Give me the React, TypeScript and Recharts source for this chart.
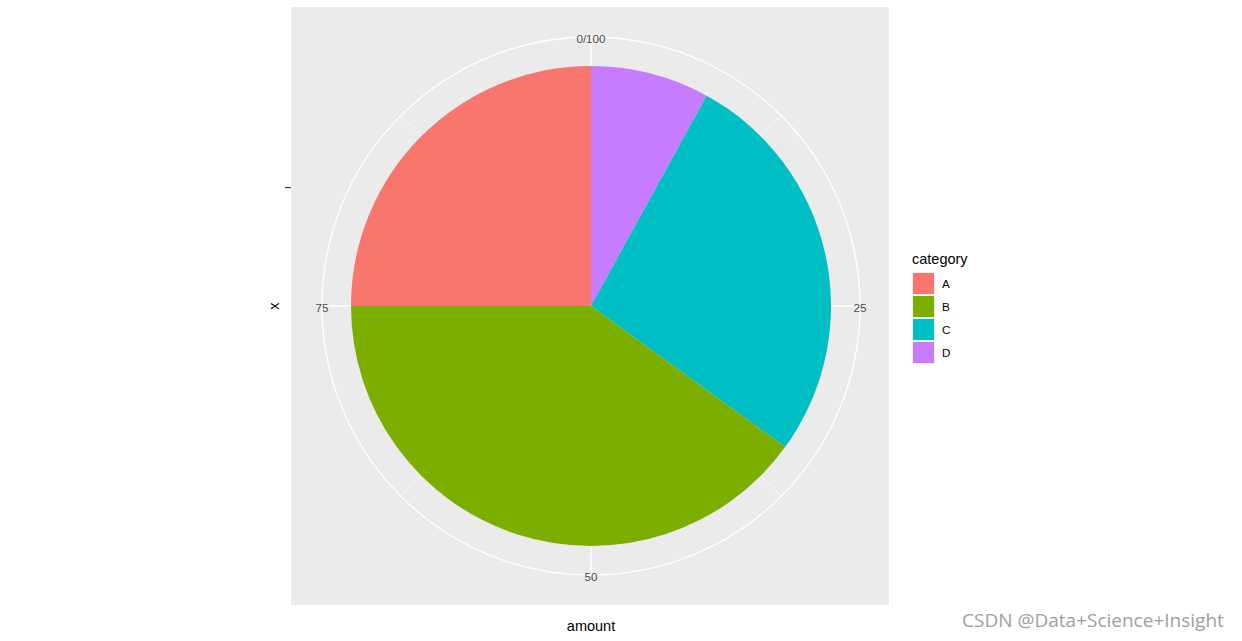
import { PieChart, Pie, Cell, Legend } from "recharts"

// slices in drawing order, clockwise from 12 o'clock
const sliceCategories = ["D", "C", "B", "A"]
const sliceAmounts = [8, 27, 40, 25]

const legendCategories = ["A", "B", "C", "D"]
const categoryColors: Record<string, string> = {
  A: "#F8766D",
  B: "#7CAE00",
  C: "#00BFC4",
  D: "#C77CFF",
}

const thetaBreaks = [0, 25, 50, 75]
const thetaLabels = ["0/100", "25", "50", "75"]
const thetaMinorBreaks = [12.5, 37.5, 62.5, 87.5]

const data = sliceCategories.map((category, i) => ({ category, amount: sliceAmounts[i] }))

const W = 1242
const H = 641
const CX = 591
const CY = 306
const PIE_R = 240
const GRID_R = 269
const FONT = "'Liberation Sans', Arial, sans-serif"

// angle in percent of the full turn -> point on a circle (clockwise from top)
const polar = (pct: number, r: number) => {
  const a = (pct / 100) * 2 * Math.PI
  return { x: CX + r * Math.sin(a), y: CY - r * Math.cos(a) }
}

function Panel() {
  return (
    <svg width={W} height={H} style={{ position: "absolute", left: 0, top: 0 }}>
      <rect x={291} y={7} width={598} height={598} fill="#EBEBEB" />
      {thetaMinorBreaks.map((b) => {
        const p = polar(b, GRID_R)
        return <line key={b} x1={CX} y1={CY} x2={p.x} y2={p.y} stroke="#fff" strokeWidth={0.7} />
      })}
      {thetaBreaks.map((b) => {
        const p = polar(b, GRID_R)
        return <line key={b} x1={CX} y1={CY} x2={p.x} y2={p.y} stroke="#fff" strokeWidth={1.4} />
      })}
      <circle cx={CX} cy={CY} r={GRID_R} fill="none" stroke="#fff" strokeWidth={1.4} />
      {thetaBreaks.map((b, i) => {
        const p = polar(b, GRID_R)
        return (
          <text
            key={b}
            x={p.x}
            y={p.y + 1}
            textAnchor="middle"
            dominantBaseline="central"
            fontFamily={FONT}
            fontSize={11.7}
            fill="#4D4D4D"
          >
            {thetaLabels[i]}
          </text>
        )
      })}
      {/* r axis: single discrete tick */}
      <line x1={285} y1={187.5} x2={291} y2={187.5} stroke="#333" strokeWidth={1.1} />
      <text
        x={279}
        y={CY}
        textAnchor="middle"
        transform={`rotate(-90 279 ${CY})`}
        fontFamily={FONT}
        fontSize={14.5}
        fill="#000"
      >
        x
      </text>
      <text x={CX} y={631} textAnchor="middle" fontFamily={FONT} fontSize={14.5} fill="#000">
        amount
      </text>
      <text x={962} y={627} fontFamily="'Open Sans', sans-serif" fontSize={19} fill="#9E9E9E">
        CSDN @Data+Science+Insight
      </text>
    </svg>
  )
}

function GgLegend() {
  return (
    <svg width={100} height={130}>
      <text x={0} y={14} fontFamily={FONT} fontSize={14.5} fill="#000">
        category
      </text>
      {legendCategories.map((c, i) => (
        <g key={c}>
          <rect x={0} y={22 + i * 23} width={23} height={23} fill="#F2F2F2" />
          <rect x={1} y={23 + i * 23} width={21} height={21} fill={categoryColors[c]} />
          <text
            x={30}
            y={33.5 + i * 23}
            dominantBaseline="central"
            fontFamily={FONT}
            fontSize={11.7}
            fill="#000"
          >
            {c}
          </text>
        </g>
      ))}
    </svg>
  )
}

export default function App() {
  return (
    <div style={{ position: "absolute", left: 0, top: 0, width: W, height: H, background: "#fff" }}>
      <Panel />
      <div style={{ position: "absolute", left: 0, top: 0 }}>
        <PieChart width={W} height={H} margin={{ top: 0, right: 0, bottom: 0, left: 0 }}>
          <Pie
            data={data}
            dataKey="amount"
            nameKey="category"
            cx={CX}
            cy={CY}
            innerRadius={0}
            outerRadius={PIE_R}
            startAngle={90}
            endAngle={-270}
            stroke="none"
            isAnimationActive={false}
          >
            {data.map((d) => (
              <Cell key={d.category} fill={categoryColors[d.category]} />
            ))}
          </Pie>
          <Legend
            layout="vertical"
            wrapperStyle={{ position: "absolute", left: 912, top: 250, width: 100 }}
            content={() => <GgLegend />}
          />
        </PieChart>
      </div>
    </div>
  )
}
